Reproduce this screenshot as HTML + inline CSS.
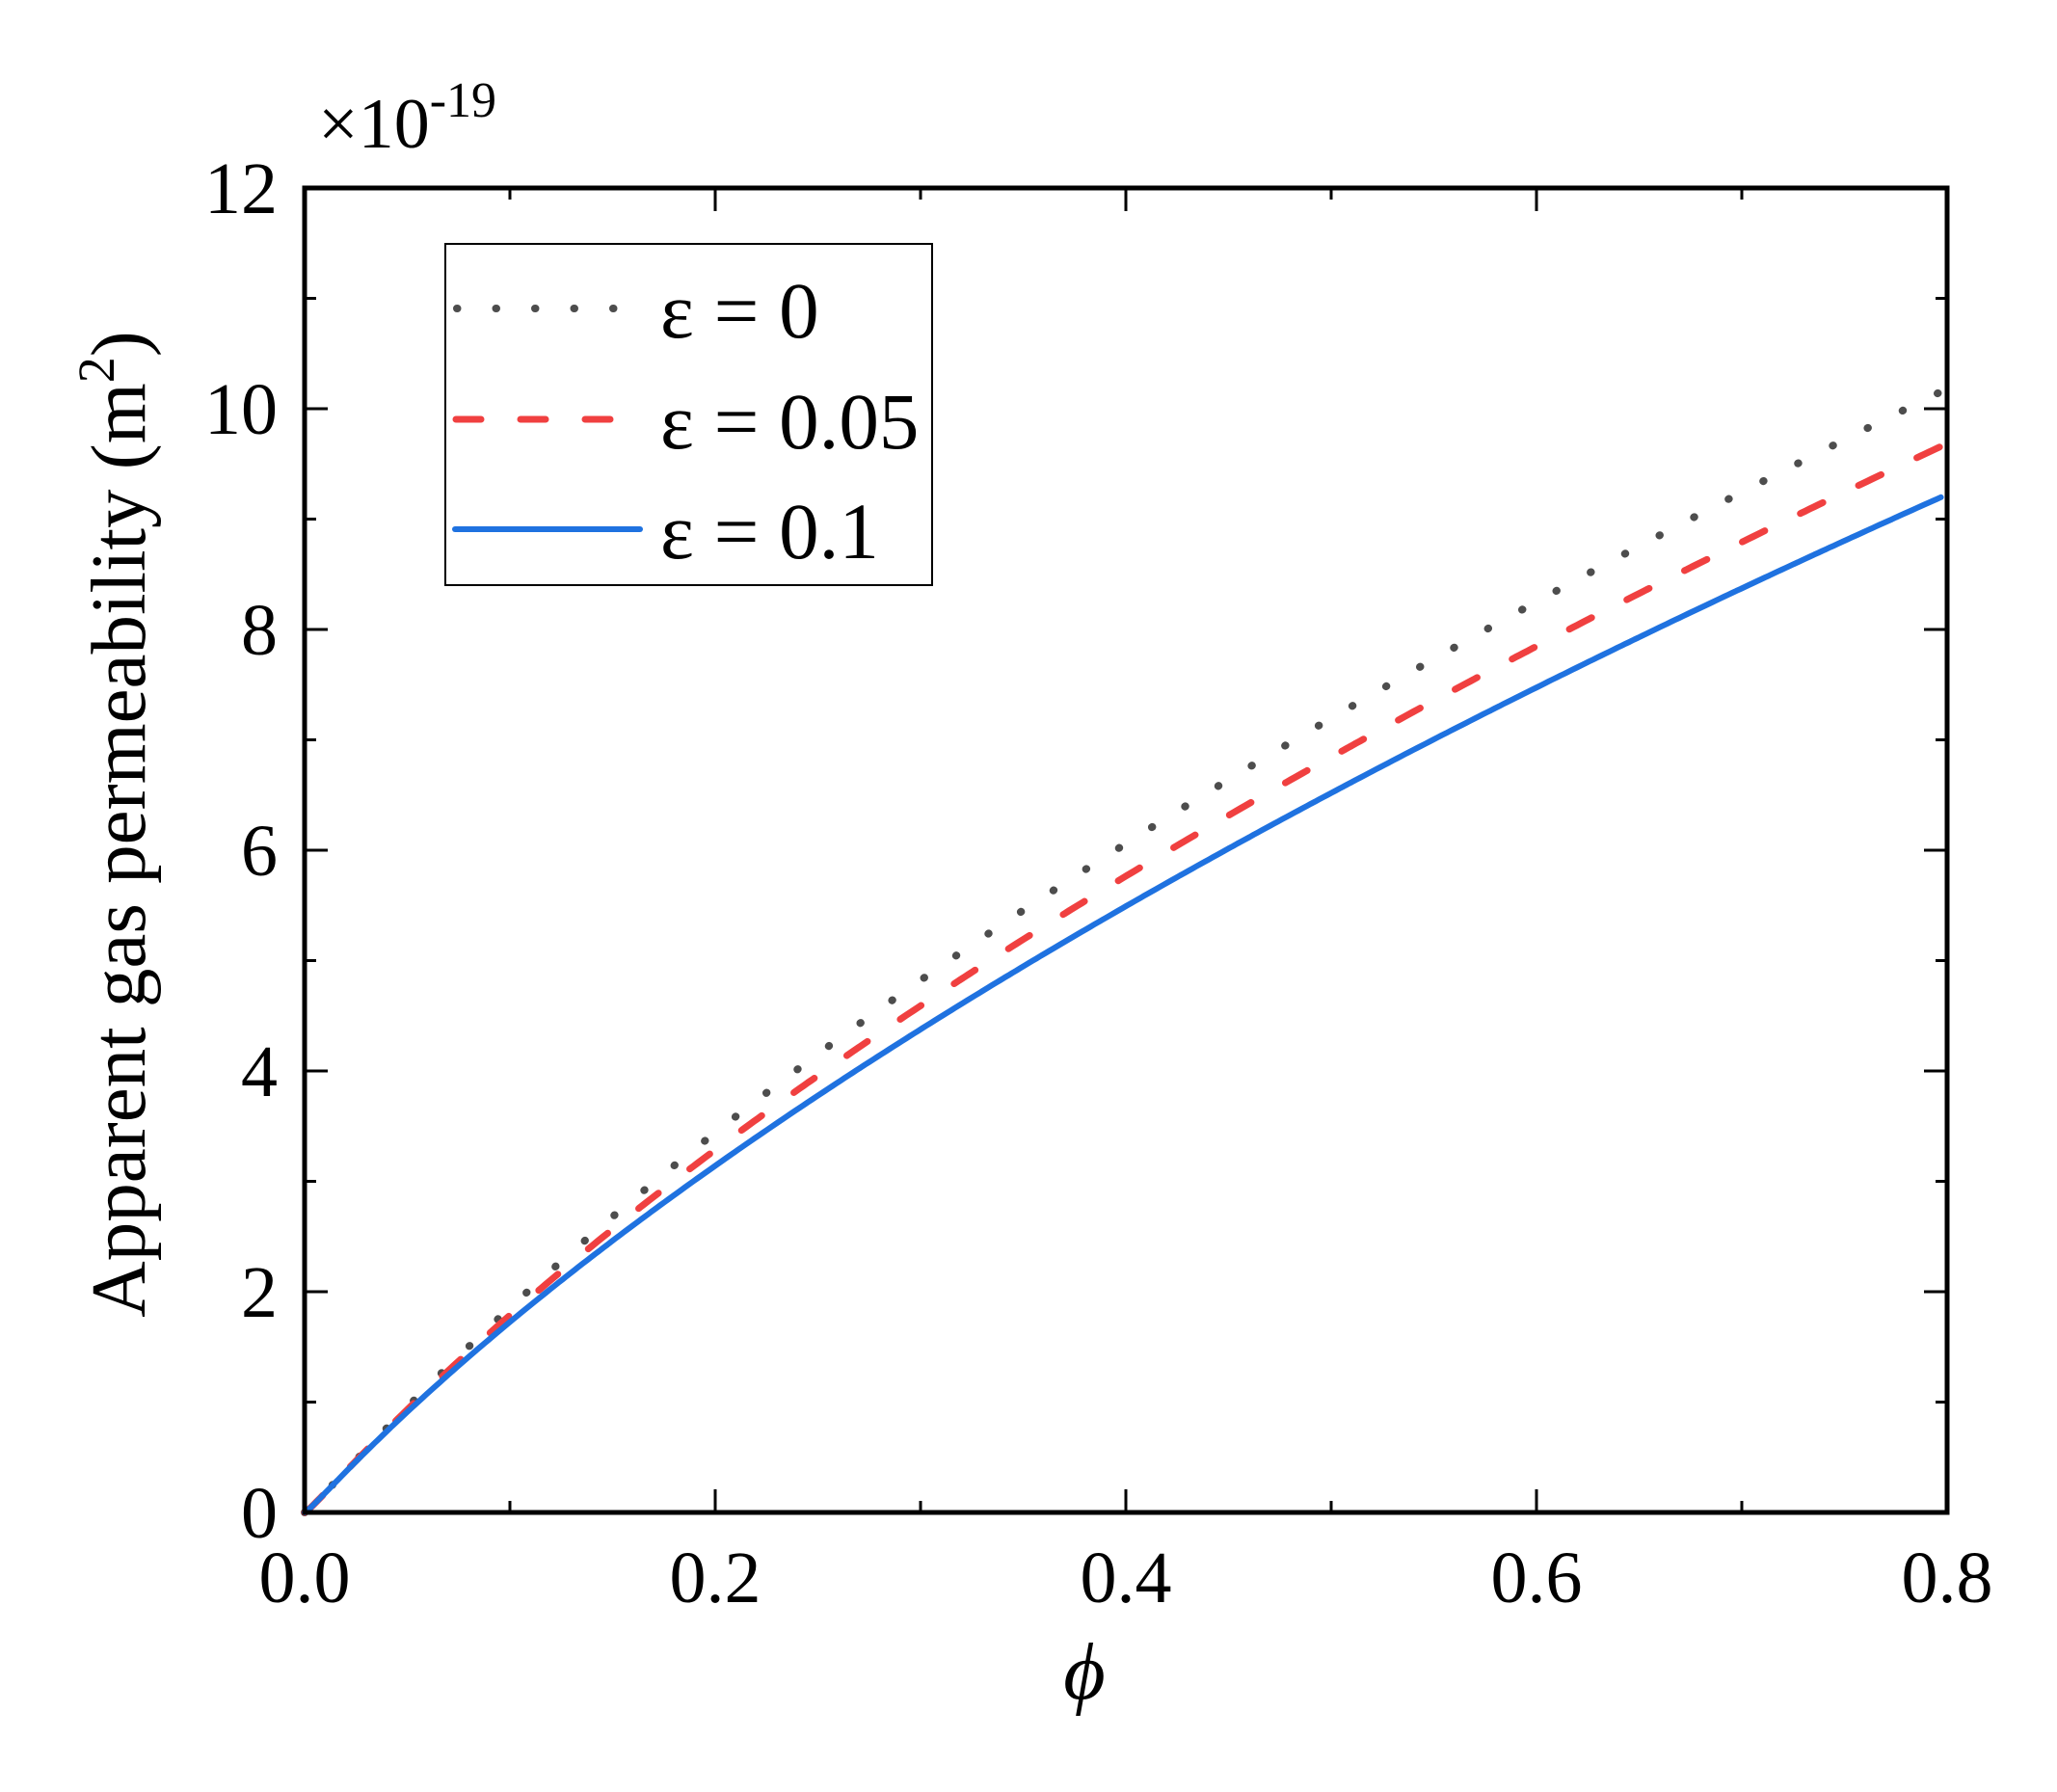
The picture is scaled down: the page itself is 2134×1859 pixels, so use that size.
<!DOCTYPE html>
<html><head><meta charset="utf-8"><style>
html,body{margin:0;padding:0;background:#fff;}
svg{display:block;font-family:"Liberation Serif",serif;}
</style></head><body>
<svg id="s" width="2134" height="1859" viewBox="0 0 2134 1859" xmlns="http://www.w3.org/2000/svg">
<rect width="2134" height="1859" fill="#fff"/>
<g id="curves" fill="none" stroke-linecap="round" stroke-linejoin="round">
<path id="pg" stroke="#4d4d4d" stroke-width="8" stroke-dasharray="0.5 40"/>
<path id="pr" stroke="#f04040" stroke-width="7" stroke-dasharray="26 41"/>
<path id="pb" stroke="#1f72e0" stroke-width="6"/>
</g>
<g stroke="#000" stroke-width="3" id="ticks"></g>
<rect x="316" y="195" width="1704" height="1374" fill="none" stroke="#000" stroke-width="5"/>
<g font-size="76" fill="#000" text-anchor="end" id="ylab"></g>
<g font-size="76" fill="#000" text-anchor="middle" id="xlab"></g>
<text x="330" y="153" font-size="74">×10<tspan font-size="52" dy="-32">-19</tspan></text>
<text transform="translate(150,855) rotate(-90)" font-size="81" text-anchor="middle">Apparent gas permeability (m<tspan font-size="54" dy="-32">2</tspan><tspan dy="32">)</tspan></text>
<text x="1125" y="1762" font-size="84" font-style="italic" text-anchor="middle">ϕ</text>
<rect x="462" y="253" width="505" height="354" fill="#fff" stroke="#000" stroke-width="2"/>
<line x1="474" y1="320" x2="640" y2="320" stroke="#4d4d4d" stroke-width="8" stroke-linecap="round" stroke-dasharray="0.5 40"/>
<line x1="473" y1="435" x2="640" y2="435" stroke="#f04040" stroke-width="7" stroke-linecap="round" stroke-dasharray="26 41"/>
<line x1="472" y1="549" x2="664" y2="549" stroke="#1f72e0" stroke-width="6" stroke-linecap="round"/>
<text x="685" y="350" font-size="83">ε = 0</text>
<text x="685" y="465" font-size="83">ε = 0.05</text>
<text x="685" y="579" font-size="83">ε = 0.1</text>
</svg>
<script>
(function(){
var X=function(p){return 316+p*2130;}, Y=function(v){return 1569-v*114.5;};
function blue(p){
  if(p<=0) return 0;
  var x=Math.log(p);
  return Math.exp(2.38+0.70*x-0.042*x*x);
}
function path(f){
  var d="";
  for(var i=0;i<=400;i++){var p=0.797*i/400;var v=f(p);d+=(i?"L":"M")+X(p).toFixed(1)+" "+Y(v).toFixed(1);}
  return d;
}
document.getElementById("pb").setAttribute("d",path(blue));
document.getElementById("pr").setAttribute("d",path(function(p){return blue(p)*(1+0.05*(1-Math.exp(-p/0.08)));}));
document.getElementById("pg").setAttribute("d",path(function(p){return blue(p)*(1+0.104*(1-Math.exp(-p/0.08)));}));
var t=document.getElementById("ticks"),s="";
for(var i=1;i<8;i++){var x=X(i*0.1),L=(i%2==0)?24:12;
 s+='<line x1="'+x+'" y1="1569" x2="'+x+'" y2="'+(1569-L)+'"/><line x1="'+x+'" y1="195" x2="'+x+'" y2="'+(195+L)+'"/>';}
for(var j=1;j<12;j++){var y=Y(j),L=(j%2==0)?24:12;
 s+='<line x1="316" y1="'+y+'" x2="'+(316+L)+'" y2="'+y+'"/><line x1="2020" y1="'+y+'" x2="'+(2020-L)+'" y2="'+y+'"/>';}
t.innerHTML=s;
var yl="";for(var k=0;k<=12;k+=2){yl+='<text x="288" y="'+(Y(k)+26)+'">'+k+'</text>';}
document.getElementById("ylab").innerHTML=yl;
var xl="",lb=["0.0","0.2","0.4","0.6","0.8"];for(var m=0;m<5;m++){xl+='<text x="'+X(m*0.2)+'" y="1662">'+lb[m]+'</text>';}
document.getElementById("xlab").innerHTML=xl;
})();
</script>
</body></html>
